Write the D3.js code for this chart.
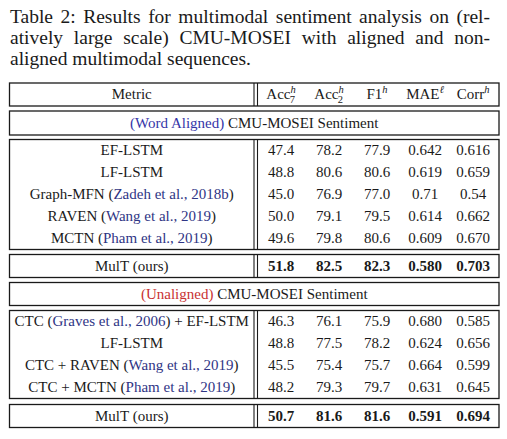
<!DOCTYPE html>
<html>
<head>
<meta charset="utf-8">
<script src="https://cdn.jsdelivr.net/npm/d3@7"></script>
<style>
  body { margin: 0; background: #fff; }
  text { font-family: "Liberation Serif", "Times New Roman", serif; fill: #1a1a1a; }
</style>
</head>
<body>
<div class="chart"></div>
<script>
// caption lines
const captionLines = [
    "Table 2: Results for multimodal sentiment analysis on (rel-",
    "atively large scale) CMU-MOSEI with aligned and non-",
    "aligned multimodal sequences."
];

// metric columns: base name, superscript, subscript
const metrics = [
    { base: "Acc", sup: "h", sub: "7" },
    { base: "Acc", sup: "h", sub: "2" },
    { base: "F1", sup: "h", sub: "" },
    { base: "MAE", sup: "\u2113", sub: "" },
    { base: "Corr", sup: "h", sub: "" }
];

// method names split in [before, citation, after]
const alignedMethods = [
    ["EF-LSTM", "", ""],
    ["LF-LSTM", "", ""],
    ["Graph-MFN ", "Zadeh et al., 2018b", ""],
    ["RAVEN ", "Wang et al., 2019", ""],
    ["MCTN ", "Pham et al., 2019", ""]
];
const alignedValues = [
    ["47.4", "78.2", "77.9", "0.642", "0.616"],
    ["48.8", "80.6", "80.6", "0.619", "0.659"],
    ["45.0", "76.9", "77.0", "0.71", "0.54"],
    ["50.0", "79.1", "79.5", "0.614", "0.662"],
    ["49.6", "79.8", "80.6", "0.609", "0.670"]
];
const alignedMulT = ["51.8", "82.5", "82.3", "0.580", "0.703"];

const unalignedMethods = [
    ["CTC ", "Graves et al., 2006", " + EF-LSTM"],
    ["LF-LSTM", "", ""],
    ["CTC + RAVEN ", "Wang et al., 2019", ""],
    ["CTC + MCTN ", "Pham et al., 2019", ""]
];
const unalignedValues = [
    ["46.3", "76.1", "75.9", "0.680", "0.585"],
    ["48.8", "77.5", "78.2", "0.624", "0.656"],
    ["45.5", "75.4", "75.7", "0.664", "0.599"],
    ["48.2", "79.3", "79.7", "0.631", "0.645"]
];
const unalignedMulT = ["50.7", "81.6", "81.6", "0.591", "0.694"];

const W = 507, H = 439;
const citeColor = "#2f3585";

const svg = d3.select(".chart").append("svg")
    .attr("width", W).attr("height", H);

// キャプション（両端揃え）
const capX = 10, capW = 480;
captionLines.forEach((line, i) => {
    const t = svg.append("text")
        .attr("x", capX)
        .attr("y", 23 + i * 21)
        .style("font-size", "19.5px")
        .text(line);
    if (i < captionLines.length - 1) {
        const natural = t.node().getComputedTextLength();
        const spaces = line.split(" ").length - 1;
        t.attr("word-spacing", (capW - natural) / spaces);
    }
});

// テーブルの横位置
const left = 9.5, right = 499, split = 254;
const x = d3.scalePoint().domain(d3.range(metrics.length)).range([281, 473]);
const nameX = (left + split) / 2;
const rowH = 22;

function box(y0, y1, divided) {
    svg.append("rect")
        .attr("x", left).attr("y", y0)
        .attr("width", right - left).attr("height", y1 - y0)
        .attr("fill", "none").attr("stroke", "#1a1a1a").attr("stroke-width", 1.3);
    if (divided) {
        [split, split + 3.5].forEach(vx => {
            svg.append("line")
                .attr("x1", vx).attr("x2", vx).attr("y1", y0).attr("y2", y1)
                .attr("stroke", "#1a1a1a").attr("stroke-width", 1.1);
        });
    }
}

function methodLabel(parts, yc) {
    const t = svg.append("text")
        .attr("x", nameX).attr("y", yc).attr("dy", "0.33em")
        .attr("text-anchor", "middle")
        .style("font-size", "15px");
    t.append("tspan").text(parts[0]);
    if (parts[1]) {
        t.append("tspan").text("(");
        t.append("tspan").style("fill", citeColor).text(parts[1]);
        t.append("tspan").text(")");
    }
    if (parts[2]) t.append("tspan").text(parts[2]);
}

function valueRow(vals, yc, bold) {
    svg.append("g").selectAll("text")
        .data(vals)
        .join("text")
        .attr("x", (d, i) => x(i))
        .attr("y", yc).attr("dy", "0.33em")
        .attr("text-anchor", "middle")
        .style("font-size", "15px")
        .style("font-weight", bold ? "bold" : null)
        .text(d => d);
}

function section(y0, y1, tag, tagColor) {
    box(y0, y1, false);
    const t = svg.append("text")
        .attr("x", (left + right) / 2).attr("y", (y0 + y1) / 2).attr("dy", "0.33em")
        .attr("text-anchor", "middle")
        .style("font-size", "15px");
    t.append("tspan").style("fill", tagColor).text(tag);
    t.append("tspan").text(" CMU-MOSEI Sentiment");
}

function dataBox(y0, methods, values) {
    const y1 = y0 + methods.length * rowH;
    box(y0, y1, true);
    const y = d3.scaleBand().domain(d3.range(methods.length)).range([y0, y1]);
    methods.forEach((m, i) => {
        const yc = y(i) + y.bandwidth() / 2;
        methodLabel(m, yc);
        valueRow(values[i], yc, false);
    });
    return y1;
}

function multRow(y0, vals) {
    const y1 = y0 + 23;
    box(y0, y1, true);
    const yc = (y0 + y1) / 2;
    methodLabel(["MulT (ours)", "", ""], yc);
    valueRow(vals, yc, true);
    return y1;
}

// ヘッダー
box(83, 106, true);
svg.append("text")
    .attr("x", nameX).attr("y", 94.5).attr("dy", "0.33em")
    .attr("text-anchor", "middle").style("font-size", "15px")
    .text("Metric");
metrics.forEach((m, i) => {
    const g = svg.append("text")
        .attr("x", x(i)).attr("y", 99)
        .attr("text-anchor", "middle")
        .style("font-size", "15px");
    g.append("tspan").text(m.base);
    g.append("tspan")
        .attr("dy", -6).style("font-size", "10.5px").style("font-style", "italic")
        .text(m.sup);
    if (m.sub) {
        g.append("tspan")
            .attr("dx", -6).attr("dy", 10).style("font-size", "10.5px")
            .text(m.sub);
    }
});

// 整列あり
section(111, 135, "(Word Aligned)", "#3535a8");
let yEnd = dataBox(139.5, alignedMethods, alignedValues);
yEnd = multRow(yEnd + 5, alignedMulT);

// 整列なし
section(yEnd + 5, yEnd + 28, "(Unaligned)", "#c83232");
yEnd = dataBox(yEnd + 33, unalignedMethods, unalignedValues);
multRow(yEnd + 6, unalignedMulT);
</script>
</body>
</html>
